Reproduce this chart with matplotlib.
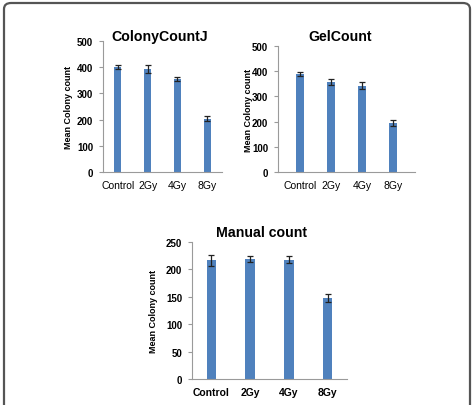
import matplotlib
matplotlib.use("Agg")
import matplotlib.pyplot as plt
from matplotlib.patches import FancyBboxPatch

plt.rcParams['font.family'] = ['Liberation Sans', 'DejaVu Sans']

categories = ["Control", "2Gy", "4Gy", "8Gy"]

ccj_means = [400, 392, 356, 204]
ccj_err = [8, 15, 8, 8]

gel_means = [390, 358, 343, 195]
gel_err = [8, 11, 15, 11]

manual_means = [217, 219, 218, 148]
manual_err = [10, 6, 6, 8]

BAR_COLOR = "#4F81BD"
W, H = 474, 406


def px_axes(fig, x0, y0, x1, y1):
    # pixel box (top-left origin) -> figure fraction
    return fig.add_axes([x0 / W, 1 - y1 / H, (x1 - x0) / W, (y1 - y0) / H])


def draw_panel(ax, means, errs, title, ymax, ystep, xlim, bold_x, title_xy, ylab_x):
    x = range(len(categories))
    ax.bar(x, means, width=0.24, color=BAR_COLOR, zorder=2)
    ax.errorbar(x, means, yerr=errs, fmt="none", ecolor="#222222",
                elinewidth=0.9, capsize=2, capthick=0.9, zorder=3)
    ax.set_ylim(0, ymax)
    ax.set_xlim(*xlim)
    ax.set_yticks(range(0, ymax + 1, ystep))
    ax.set_xticks(list(x))
    ax.set_xticklabels(categories, fontsize=7.5,
                       fontweight="bold" if bold_x else "normal")
    for lab in ax.get_yticklabels():
        lab.set_fontsize(7)
        lab.set_fontweight("bold")
    ax.set_ylabel("Mean Colony count", fontsize=6.5, fontweight="bold")
    # y label right edge at a fixed pixel column
    x0 = ax.get_position().x0 * W
    ax.yaxis.set_label_coords((ylab_x - x0) / (ax.get_position().width * W), 0.5)
    for s in ("top", "right"):
        ax.spines[s].set_visible(False)
    for s in ("left", "bottom"):
        ax.spines[s].set_color("#9a9a9a")
        ax.spines[s].set_linewidth(0.8)
    ax.tick_params(axis="y", length=3, color="#9a9a9a", pad=4)
    ax.tick_params(axis="x", length=0, pad=6)
    fig.text(title_xy[0] / W, 1 - title_xy[1] / H, title, fontsize=10.2,
             fontweight="bold", ha="center", va="center")


fig = plt.figure(figsize=(W / 100, H / 100), dpi=100)

ax1 = px_axes(fig, 103, 42, 222, 173)
draw_panel(ax1, ccj_means, ccj_err, "ColonyCountJ", 500, 100,
           (-0.5, 3.5), False, (160, 37), 73)

ax2 = px_axes(fig, 278, 47, 415, 173)
draw_panel(ax2, gel_means, gel_err, "GelCount", 500, 100,
           (-0.71, 3.71), False, (340, 37), 253)

ax3 = px_axes(fig, 192, 243, 347, 380)
draw_panel(ax3, manual_means, manual_err, "Manual count", 250, 50,
           (-0.5, 3.5), True, (262, 233), 158)

# rounded frame around the whole figure, open at the bottom
frame = FancyBboxPatch((4 / W, -0.05), (W - 8) / W, 1 - 4 / H + 0.05,
                       boxstyle="round,pad=0,rounding_size=0.015",
                       transform=fig.transFigure, fill=False,
                       edgecolor="#555555", linewidth=1.6, clip_on=False)
fig.patches.append(frame)

fig.savefig("out.png", dpi=100)
